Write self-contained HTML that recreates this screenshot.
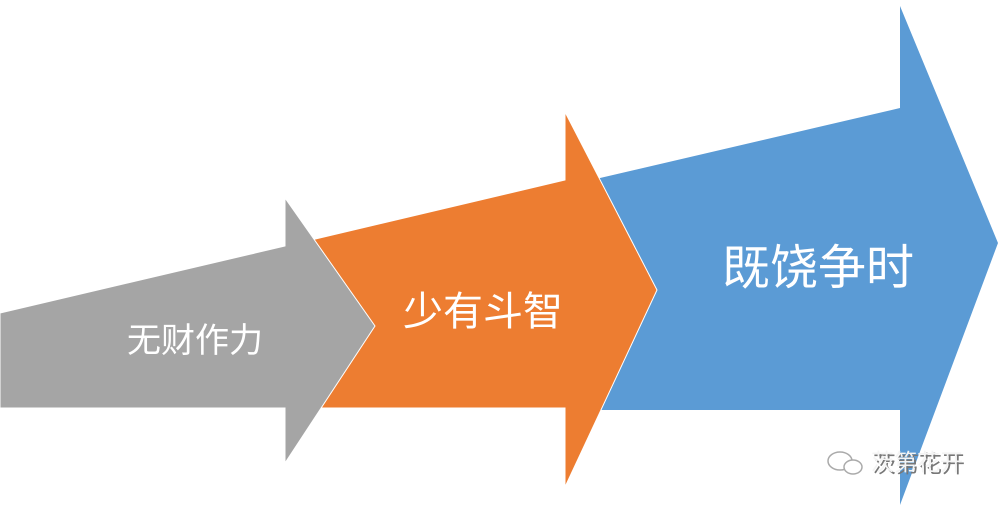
<!DOCTYPE html>
<html><head><meta charset="utf-8"><style>
html,body{margin:0;padding:0;background:#fff;}
svg{display:block;}
text{font-family:"Liberation Sans","Noto Sans CJK SC",sans-serif;fill:#fff;}
</style></head><body>
<svg width="1000" height="511" viewBox="0 0 1000 511">
<polygon fill="#5b9bd5" points="570,185 900,108 900,6 998,243 900,505 900,410 570,410"/>
<polygon fill="#ed7d31" stroke="#fff" stroke-width="1" points="290,245 565,180 565,112 657,290 565,487 565,408 290,408"/>
<polygon fill="#a5a5a5" stroke="#fff" stroke-width="1" points="0,313 285,246 285,198 375,326 285,463 285,408 0,408"/>
<text x="195" y="352" font-size="34" text-anchor="middle">无财作力</text>
<text x="483" y="325" font-size="40" text-anchor="middle">少有斗智</text>
<text x="818" y="284" font-size="48" text-anchor="middle">既饶争时</text>
<g>
<ellipse cx="840" cy="461" rx="12" ry="9" fill="#fff" stroke="#aaa" stroke-width="1.5"/>
<ellipse cx="853" cy="467" rx="9" ry="7" fill="#fff" stroke="#aaa" stroke-width="1.5"/>
<text x="873" y="472" font-size="23" style="fill:#777">茨第花开</text>
<text x="871" y="470" font-size="23" style="fill:#f4f4f4">茨第花开</text>
</g>
</svg>
</body></html>
